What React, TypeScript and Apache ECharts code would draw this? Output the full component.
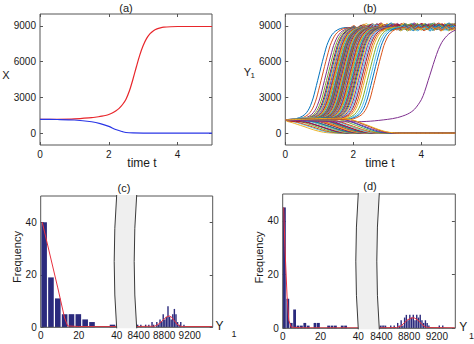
import React, { useEffect, useRef } from 'react';
import * as echarts from 'echarts';

const FONT = '"Liberation Sans", Arial, Helvetica, sans-serif';
const FRAME = '#555555';
const TEXT = '#1a1a1a';
const NAVY = '#2b2a7d';
const FIT_RED = '#e8303f';
const MATLAB_COLORS = ['#0072BD', '#D95319', '#EDB120', '#7E2F8E', '#77AC30', '#4DBEEE', '#A2142F'];

// ---------- panel (a) ----------
const A_RED_T = [0, 0.5, 1.0, 1.5, 1.6, 1.7, 1.8, 1.9, 2.0, 2.1, 2.2, 2.3, 2.4, 2.5, 2.6, 2.7, 2.8, 2.9, 3.0, 3.1, 3.2, 3.3, 3.4, 3.5, 3.6, 3.8, 4.0, 5.0];
const A_RED_Y = [1150, 1160, 1200, 1300, 1330, 1370, 1420, 1480, 1560, 1680, 1850, 2080, 2400, 2850, 3550, 4500, 5550, 6550, 7350, 7950, 8350, 8600, 8750, 8840, 8890, 8930, 8950, 8950];
const A_BLUE_T = [0, 0.5, 1.0, 1.5, 1.75, 2.0, 2.2, 2.4, 2.5, 2.7, 3.0, 5.0];
const A_BLUE_Y = [1150, 1140, 1100, 950, 800, 560, 300, 120, 50, 10, 0, 0];

const TIME_TICKS = [0, 2, 4];
const POP_TICKS = [0, 3000, 6000, 9000];

// ---------- panel (b) ----------
// shape of a rising trajectory, relative to its mid time
const UP_OFFSET = [-0.8, -0.6, -0.45, -0.35, -0.28, -0.2, -0.14, -0.07, 0, 0.07, 0.14, 0.2, 0.28, 0.35, 0.45, 0.6, 0.8];
const UP_SHAPE = [1150, 1300, 1550, 1900, 2300, 2950, 3600, 4400, 5200, 6000, 6750, 7350, 7900, 8250, 8550, 8780, 8870];
// mid times of the rising trajectories
const UP_MID = [1.02, 1.12, 1.22, 1.28, 1.33, 1.36, 1.39, 1.42, 1.44, 1.46, 1.48, 1.50, 1.52, 1.54, 1.56, 1.57, 1.59, 1.60, 1.62, 1.63,
  1.65, 1.66, 1.68, 1.69, 1.71, 1.72, 1.74, 1.75, 1.77, 1.78, 1.80, 1.81, 1.83, 1.85, 1.86, 1.88, 1.90, 1.92, 1.94, 1.96,
  1.98, 2.00, 2.02, 2.04, 2.06, 2.09, 2.12, 2.15, 2.18, 2.22, 2.26, 2.30, 2.35, 2.40, 2.48, 2.55, 2.62, 2.70];
// plateau levels and wiggles of the rising trajectories
const PLATEAU = [8850, 8950, 8800, 9000, 8900, 8750, 9050, 8880, 8920, 8820, 8980, 8860];
const WIGGLE = [0, 120, -80, 160, -60, 80, -150, 40, 190, -100, 30, -170, 110, -30, 140, -90, 60];
const WIGGLE_STEP = 0.1;
// shape of a decaying trajectory (fraction of its level), relative to its mid time
const DOWN_OFFSET = [-0.9, -0.7, -0.5, -0.35, -0.2, 0, 0.2, 0.35, 0.5, 0.65, 0.8, 0.95];
const DOWN_FRAC = [1, 0.97, 0.9, 0.8, 0.67, 0.5, 0.32, 0.2, 0.1, 0.04, 0.01, 0];
const DOWN_MID = [0.55, 0.7, 0.8, 0.9, 1.0, 1.05, 1.1, 1.15, 1.2, 1.25, 1.3, 1.35, 1.4, 1.45, 1.5, 1.55, 1.6, 1.65, 1.7, 1.75,
  1.8, 1.85, 1.9, 2.0, 2.1, 2.2, 2.3, 2.4, 2.45];
const DOWN_LEVEL = [1100, 1100, 1050, 1100, 1150, 1100, 1000, 1150, 1100, 1200, 1100, 1050, 1250, 1100, 1150, 1300, 1100, 1200, 1150, 1250,
  1100, 1300, 1200, 1150, 1250, 1300, 1200, 1250, 1250];
// the one late riser
const LATE_T = [0, 0.5, 1.0, 1.5, 2.0, 2.5, 3.0, 3.3, 3.6, 3.8, 4.0, 4.1, 4.2, 4.3, 4.4, 4.5, 4.6, 4.7, 4.8, 4.9, 5.0];
const LATE_Y = [1100, 1050, 1000, 950, 950, 1000, 1150, 1300, 1600, 2000, 2800, 3500, 4400, 5300, 6200, 7000, 7600, 8000, 8300, 8500, 8650];

// ---------- panel (c) ----------
const FREQ_TICKS = [0, 20, 40];
const HIGH_TICKS = [8400, 8800, 9200];
const C_LEFT_X = [1.8, 5.4, 9.0, 12.6, 16.2, 19.8, 23.4, 27.0, 37.8];
const C_LEFT_Y = [40, 19, 11, 5, 5, 5, 3, 2, 1];
const C_LEFT_FIT_X = [0.8, 5.4, 9.0, 12.6, 14.2, 20, 40];
const C_LEFT_FIT_Y = [40, 26, 15, 3.5, 0.5, 0.3, 0.3];
const C_RIGHT_X = [8385, 8435, 8510, 8560, 8610, 8635, 8685, 8710, 8735, 8760, 8785, 8810, 8835, 8860, 8885, 8910, 8935, 8960, 8985, 9010, 9035, 9060, 9110];
const C_RIGHT_Y = [1, 1, 1, 1, 2, 1, 2, 1, 3, 2, 5, 3, 4, 8, 4, 3, 5, 7, 5, 2, 1, 2, 1];
const C_RIGHT_FIT_X = [8370, 8650, 8700, 8750, 8800, 8850, 8880, 8920, 8960, 9000, 9050, 9100, 9560];
const C_RIGHT_FIT_Y = [0.3, 0.4, 1, 2, 3.2, 4.1, 4.3, 3.8, 2.5, 1.2, 0.4, 0.3, 0.3];

// ---------- panel (d) ----------
const D_LEFT_X = [0.9, 2.7, 4.5, 6.3, 8.1, 9.9, 11.7, 13.5, 17.1, 18.9, 24.3, 26.1, 27.9, 31.5, 33.3];
const D_LEFT_Y = [45, 11, 2, 7, 1, 1, 2, 1, 2, 2, 1, 1, 1, 1, 1];
const D_LEFT_FIT_X = [0.5, 1.2, 2.3, 3.2, 4.6, 10, 40];
const D_LEFT_FIT_Y = [45, 30, 12, 3, 0.4, 0.2, 0.2];
const D_RIGHT_X = [8385, 8410, 8435, 8460, 8535, 8585, 8635, 8660, 8685, 8710, 8735, 8760, 8785, 8810, 8835, 8860, 8885, 8910, 8935, 8960, 8985, 9010, 9035, 9060, 9085, 9235, 9285];
const D_RIGHT_Y = [1, 1, 1, 1, 1, 1, 2, 1, 3, 1, 4, 5, 3, 5, 4, 5, 3, 5, 4, 5, 3, 2, 3, 2, 1, 1, 1];
const D_RIGHT_FIT_X = [8370, 8620, 8680, 8730, 8780, 8840, 8880, 8930, 8980, 9030, 9080, 9460];
const D_RIGHT_FIT_Y = [0.2, 0.3, 0.8, 2, 3.2, 3.9, 3.8, 3, 1.6, 0.5, 0.3, 0.2];

const zip = (xs: number[], ys: number[]) => xs.map((x, i) => [x, ys[i]]);

function upCurve(mid: number, i: number) {
  const pts: number[][] = [[0, 1100]];
  UP_OFFSET.forEach((o, k) => {
    const t = mid + o;
    if (t > 0) pts.push([t, UP_SHAPE[k]]);
  });
  const level = PLATEAU[i % PLATEAU.length];
  let j = 0;
  for (let t = mid + UP_OFFSET[UP_OFFSET.length - 1] + WIGGLE_STEP; t < 5.2; t += WIGGLE_STEP, j++) {
    pts.push([t, level + WIGGLE[(j + i * 5) % WIGGLE.length]]);
  }
  return pts;
}

function downCurve(mid: number, level: number) {
  const pts: number[][] = [[0, 1100]];
  DOWN_OFFSET.forEach((o, k) => {
    const t = mid + o;
    if (t > 0) pts.push([t, level * DOWN_FRAC[k]]);
  });
  pts.push([5, 0]);
  return pts;
}

// band (axis break) shapes
function bandD(w: number, h: number, b: number, closed: boolean) {
  if (closed) return `M0,0 Q${-2 * b},${h / 2} 0,${h} L${w},${h} Q${w - 2 * b},${h / 2} ${w},0 Z`;
  return `M0,0 Q${-2 * b},${h / 2} 0,${h} M${w},0 Q${w - 2 * b},${h / 2} ${w},${h}`;
}

// layout
const GA = { left: 40, top: 14, width: 172, height: 131 };
const GB = { left: 285.3, top: 14, width: 170, height: 131 };
const C = { left: 40.7, top: 196, width: 172, height: 131.3, half: 76, gap: 20 };
const D = { left: 282.7, top: 194, width: 172.6, height: 134.3, half: 75.6, gap: 21 };

echarts.graphic.registerShape('bandFillC', echarts.graphic.extendPath(bandD(C.gap, C.height + 2, 2.5, true), {}));
echarts.graphic.registerShape('bandEdgeC', echarts.graphic.extendPath(bandD(C.gap, C.height + 2, 2.5, false), {}));
echarts.graphic.registerShape('bandFillD', echarts.graphic.extendPath(bandD(D.gap, D.height + 2, 2.5, true), {}));
echarts.graphic.registerShape('bandEdgeD', echarts.graphic.extendPath(bandD(D.gap, D.height + 2, 2.5, false), {}));

const tickLabel = { color: TEXT, fontSize: 10, fontFamily: FONT };

function valAxis(gridIndex: number, min: number, max: number, ticks: number[], position: string, labels: boolean, showTicks = true, margin = 4) {
  return {
    type: 'value', gridIndex, min, max, position,
    axisLine: { show: false, onZero: false },
    axisTick: { show: showTicks, inside: true, length: 3, customValues: ticks, lineStyle: { color: FRAME, width: 1 } },
    axisLabel: { show: labels, customValues: ticks, margin, formatter: (v: number) => String(v), ...tickLabel },
    splitLine: { show: false },
  };
}

function text(t: string, x: number, y: number, size: number, extra: any = {}) {
  return {
    type: 'text', x, y, z: 200, ...extra,
    style: { text: t, fontSize: size, fontFamily: FONT, fill: TEXT, align: 'center', verticalAlign: 'middle', textAlign: 'center', textVerticalAlign: 'middle' },
  };
}

export default function App() {
  const ref = useRef<HTMLDivElement>(null);
  useEffect(() => {
    if (!ref.current) return;
    const chart = echarts.init(ref.current, undefined, { renderer: 'svg' });

    const series: any[] = [];
    // (a)
    series.push({ type: 'line', xAxisIndex: 0, yAxisIndex: 0, data: zip(A_RED_T, A_RED_Y), smooth: 0.3, showSymbol: false, symbol: 'none', silent: true, lineStyle: { width: 1.2, color: '#e8262b' } });
    series.push({ type: 'line', xAxisIndex: 0, yAxisIndex: 0, data: zip(A_BLUE_T, A_BLUE_Y), smooth: 0.3, showSymbol: false, symbol: 'none', silent: true, lineStyle: { width: 1.2, color: '#2a36e6' } });

    // (b)
    const pushB = (data: number[][], color: string) => series.push({ type: 'line', xAxisIndex: 2, yAxisIndex: 2, data, smooth: 0.3, showSymbol: false, symbol: 'none', silent: true, lineStyle: { width: 1, color } });
    let ci = 0, u = 0, d = 0;
    const lastDown = DOWN_MID.length - 1;
    while (u < UP_MID.length || d < lastDown) {
      for (let r = 0; r < 2 && u < UP_MID.length; r++, u++) pushB(upCurve(UP_MID[u], u), MATLAB_COLORS[ci++ % 7]);
      if (d < lastDown) { pushB(downCurve(DOWN_MID[d], DOWN_LEVEL[d]), MATLAB_COLORS[ci++ % 7]); d++; }
    }
    pushB(zip(LATE_T, LATE_Y), '#7E2F8E');
    pushB(downCurve(DOWN_MID[lastDown], DOWN_LEVEL[lastDown]), '#EDB120');

    // (c), (d) histograms
    const bar = (xi: number, xs: number[], ys: number[], w: number) => ({ type: 'bar', xAxisIndex: xi, yAxisIndex: xi, data: zip(xs, ys), barWidth: w, silent: true, itemStyle: { color: NAVY } });
    const fit = (xi: number, xs: number[], ys: number[]) => ({ type: 'line', xAxisIndex: xi, yAxisIndex: xi, data: zip(xs, ys), showSymbol: false, symbol: 'none', silent: true, z: 3, lineStyle: { width: 1, color: FIT_RED } });
    series.push(bar(4, C_LEFT_X, C_LEFT_Y, 5.6), fit(4, C_LEFT_FIT_X, C_LEFT_FIT_Y));
    series.push(bar(5, C_RIGHT_X, C_RIGHT_Y, 1.4), fit(5, C_RIGHT_FIT_X, C_RIGHT_FIT_Y));
    series.push(bar(6, D_LEFT_X, D_LEFT_Y, 2.8), fit(6, D_LEFT_FIT_X, D_LEFT_FIT_Y));
    series.push(bar(7, D_RIGHT_X, D_RIGHT_Y, 1.4), fit(7, D_RIGHT_FIT_X, D_RIGHT_FIT_Y));

    const frameGrid = { show: true, borderColor: FRAME, borderWidth: 1, backgroundColor: 'transparent', containLabel: false };
    const grid = [
      { ...GA, ...frameGrid },
      { ...GB, ...frameGrid },
      { left: C.left, top: C.top, width: C.half, height: C.height },
      { left: C.left + C.half + C.gap, top: C.top, width: C.half, height: C.height },
      { left: D.left, top: D.top, width: D.half, height: D.height },
      { left: D.left + D.half + D.gap, top: D.top, width: D.half, height: D.height },
    ];

    const xAxis = [
      valAxis(0, 0, 5, TIME_TICKS, 'bottom', true),
      valAxis(0, 0, 5, TIME_TICKS, 'top', false),
      valAxis(1, 0, 5, TIME_TICKS, 'bottom', true),
      valAxis(1, 0, 5, TIME_TICKS, 'top', false),
      valAxis(2, 0, 40, FREQ_TICKS, 'bottom', true, false, 3),
      valAxis(3, 8370, 9560, HIGH_TICKS, 'bottom', true, false, 3),
      valAxis(4, 0, 40, FREQ_TICKS, 'bottom', true, false, 3),
      valAxis(5, 8370, 9460, HIGH_TICKS, 'bottom', true, false, 3),
    ];
    const yAxis = [
      valAxis(0, -1000, 10000, POP_TICKS, 'left', true),
      valAxis(0, -1000, 10000, POP_TICKS, 'right', false),
      valAxis(1, -1000, 10000, POP_TICKS, 'left', true),
      valAxis(1, -1000, 10000, POP_TICKS, 'right', false),
      valAxis(2, 0, 50, FREQ_TICKS, 'left', true),
      valAxis(3, 0, 50, FREQ_TICKS, 'right', false),
      valAxis(4, 0, 50, FREQ_TICKS, 'left', true),
      valAxis(5, 0, 50, FREQ_TICKS, 'right', false),
    ];

    const graphic: any[] = [
      // frames of (c) and (d)
      { type: 'rect', z: 50, shape: { x: C.left, y: C.top, width: C.width, height: C.height }, style: { fill: 'none', stroke: FRAME, lineWidth: 1 } },
      { type: 'rect', z: 50, shape: { x: D.left, y: D.top, width: D.width, height: D.height }, style: { fill: 'none', stroke: FRAME, lineWidth: 1 } },
      // axis breaks
      { type: 'bandFillC', z: 100, x: C.left + C.half, y: C.top - 1, style: { fill: '#efefef', stroke: 'none' } },
      { type: 'bandEdgeC', z: 101, x: C.left + C.half, y: C.top - 1, style: { fill: 'none', stroke: '#3a3a3a', lineWidth: 1 } },
      { type: 'bandFillD', z: 100, x: D.left + D.half, y: D.top - 1, style: { fill: '#efefef', stroke: 'none' } },
      { type: 'bandEdgeD', z: 101, x: D.left + D.half, y: D.top - 1, style: { fill: 'none', stroke: '#3a3a3a', lineWidth: 1 } },
      // titles
      text('(a)', 126, 8, 11),
      text('(b)', 370, 8, 11),
      text('(c)', 124, 188, 11),
      text('(d)', 370, 186, 11),
      // axis names
      text('time t', 142, 163, 12),
      text('time t', 380, 163, 12),
      text('X', 6, 75, 11),
      text('Y', 247.3, 71.5, 11),
      text('1', 252.8, 75.5, 8),
      text('Frequency', 17, 257, 11, { rotation: Math.PI / 2 }),
      text('Frequency', 258.5, 257.5, 11, { rotation: Math.PI / 2 }),
      text('Y', 219.5, 326, 12),
      text('1', 234, 333.5, 9),
      text('Y', 463.3, 326.7, 12),
      text('1', 471.5, 336, 9),
    ];

    chart.setOption({
      animation: false,
      backgroundColor: '#ffffff',
      textStyle: { fontFamily: FONT },
      grid,
      xAxis,
      yAxis,
      series,
      graphic,
    });
    return () => chart.dispose();
  }, []);
  return <div ref={ref} style={{ position: 'absolute', left: 0, top: 0, width: 474, height: 344, background: '#fff' }} />;
}
